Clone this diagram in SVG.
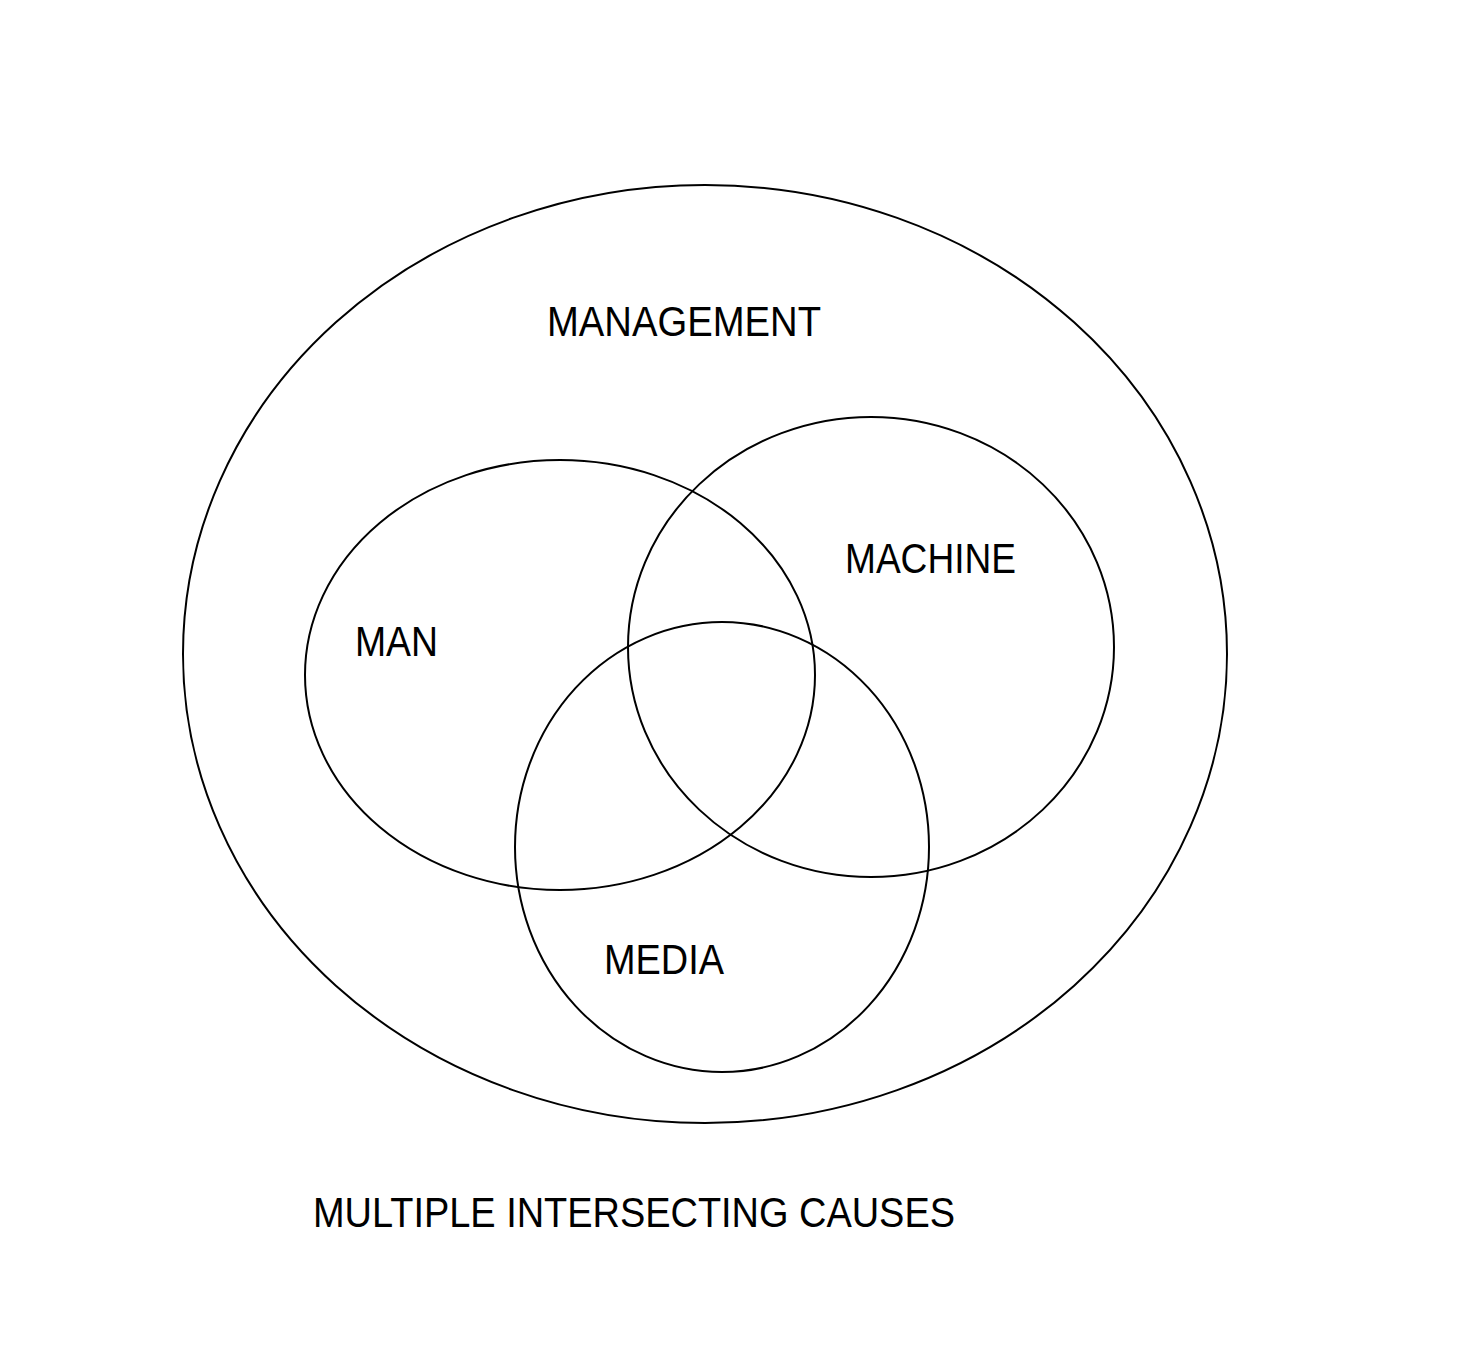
<svg xmlns="http://www.w3.org/2000/svg" width="1458" height="1354" viewBox="0 0 1458 1354">
<style>
.c{fill:none;stroke:#000;stroke-width:2}
.t{font-family:"Liberation Sans",Arial,sans-serif;font-size:42px;fill:#000}
</style>
<rect width="1458" height="1354" fill="#fff"/>
<g id="management">
<ellipse class="c" cx="705" cy="654" rx="522" ry="469"/>
<text class="t" x="547" y="336" textLength="274" lengthAdjust="spacingAndGlyphs">MANAGEMENT</text>
</g>
<g id="man">
<ellipse class="c" cx="560" cy="675" rx="255" ry="215"/>
<text class="t" x="355" y="656" textLength="83" lengthAdjust="spacingAndGlyphs">MAN</text>
</g>
<g id="machine">
<ellipse class="c" cx="871" cy="647" rx="243" ry="230"/>
<text class="t" x="845" y="573" textLength="171" lengthAdjust="spacingAndGlyphs">MACHINE</text>
</g>
<g id="media">
<ellipse class="c" cx="722" cy="847" rx="207" ry="225"/>
<text class="t" x="604" y="974" textLength="120" lengthAdjust="spacingAndGlyphs">MEDIA</text>
</g>
<g id="caption">
<text class="t" x="313" y="1227" textLength="642" lengthAdjust="spacingAndGlyphs">MULTIPLE INTERSECTING CAUSES</text>
</g>
<g id="connectors"/>
</svg>
